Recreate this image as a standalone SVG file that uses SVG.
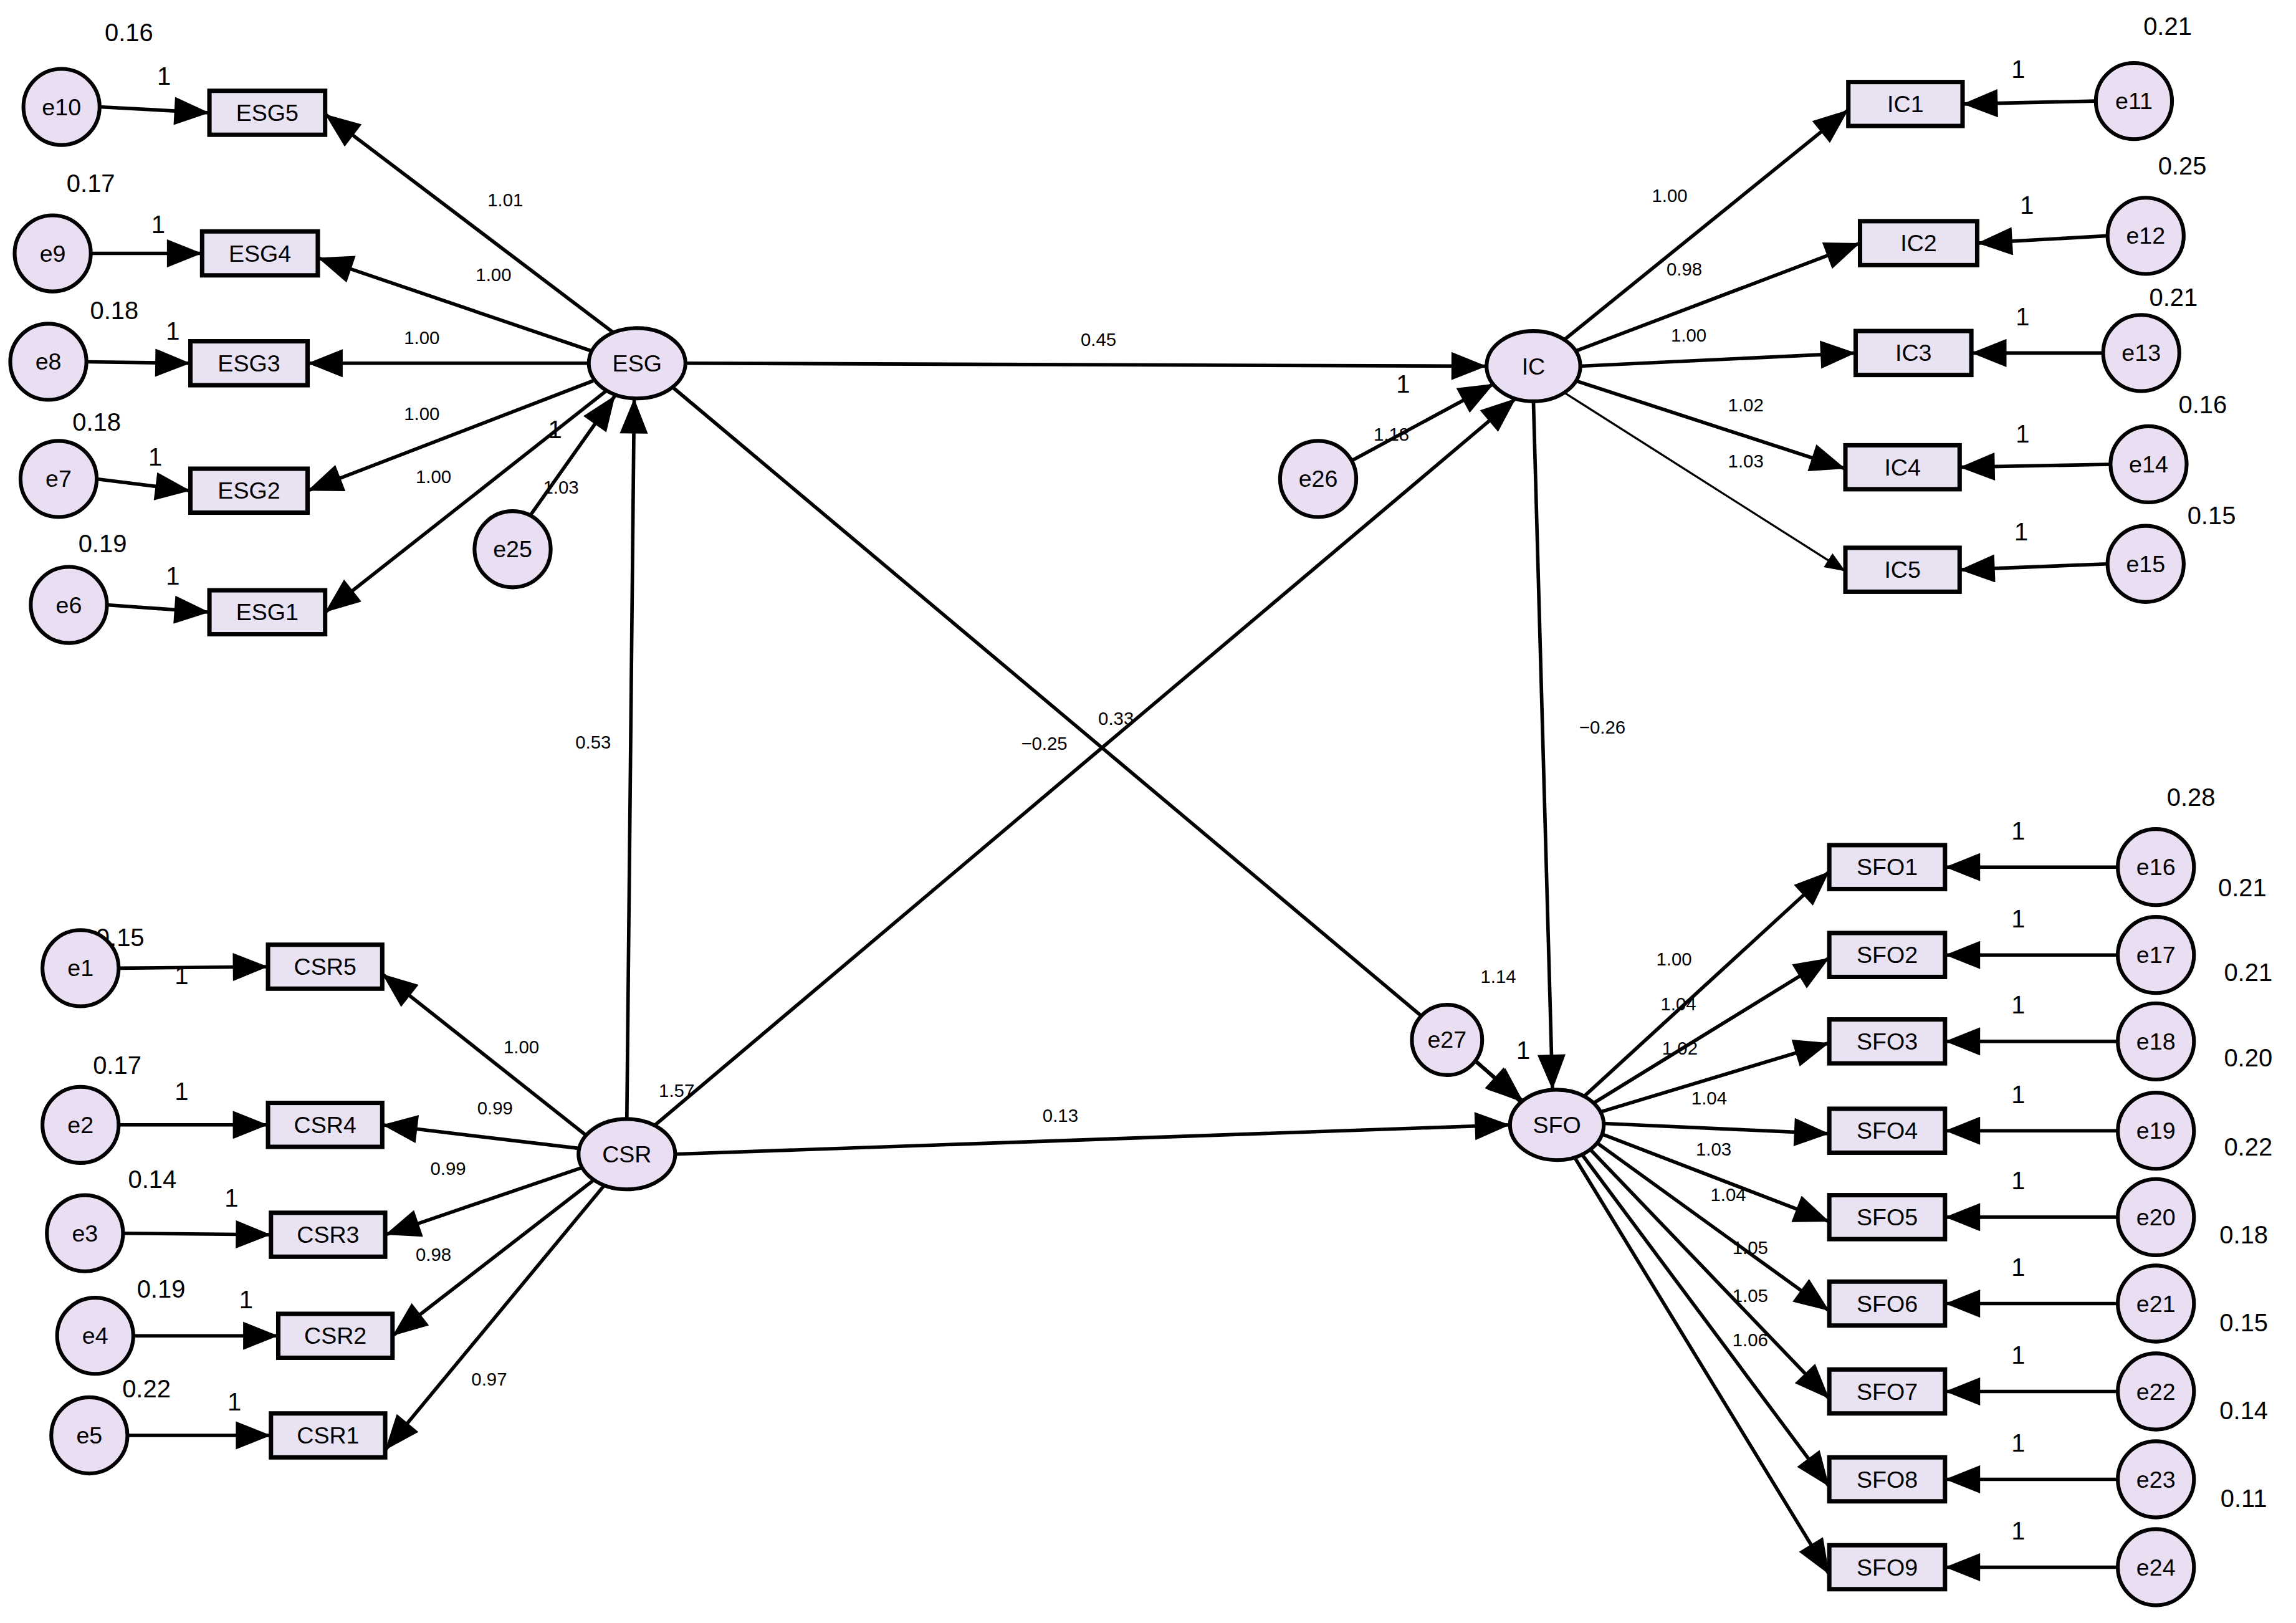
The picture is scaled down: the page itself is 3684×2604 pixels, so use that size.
<svg xmlns="http://www.w3.org/2000/svg" width="3684" height="2604" viewBox="0 0 3684 2604">
<style>
.n{fill:#EADEF2;stroke:#000;stroke-width:2.6}
.r{fill:#E8E2F2;stroke:#000;stroke-width:3}
.t{font-family:"Liberation Sans",Arial,sans-serif;font-size:16px;text-anchor:middle;dominant-baseline:central;fill:#000}
.v{font-family:"Liberation Sans",Arial,sans-serif;font-size:17px;text-anchor:middle;fill:#000}
.p{font-family:"Liberation Sans",Arial,sans-serif;font-size:12.5px;text-anchor:middle;fill:#000}
.e line{stroke:#000;stroke-width:2.4;marker-end:url(#ah)}
</style>
<defs><marker id="ah" viewBox="0 0 10 8" refX="10" refY="4" markerWidth="11" markerHeight="8" orient="auto"><path d="M0,0L10,4L0,8z" fill="#000"/></marker></defs>
<rect width="3684" height="2604" fill="#fff"/>
<g transform="scale(2.35)">
<g id="connectors" class="e">
<line x1="68" y1="73" x2="143" y2="77"/><line x1="62" y1="173" x2="138" y2="173"/><line x1="59" y1="247" x2="130" y2="248"/><line x1="66" y1="327" x2="130" y2="335"/><line x1="73" y1="413" x2="143" y2="418"/>
<line x1="420" y1="228" x2="222" y2="78"/><line x1="405" y1="240" x2="217" y2="176"/><line x1="402" y1="248" x2="210" y2="248"/><line x1="405" y1="260" x2="210" y2="335"/><line x1="415" y1="266" x2="222" y2="418"/>
<line x1="362" y1="352" x2="420" y2="270"/>
<line x1="468" y1="248" x2="1015" y2="250"/><line x1="460" y1="265" x2="1040" y2="752"/><line x1="428" y1="764" x2="433" y2="272"/><line x1="445" y1="770" x2="1035" y2="272"/><line x1="1047" y1="274" x2="1060" y2="744"/><line x1="461" y1="788" x2="1031" y2="768"/>
<line x1="922" y1="315" x2="1020" y2="262"/><line x1="1005" y1="722" x2="1038" y2="752"/>
<line x1="400" y1="775" x2="261" y2="665"/><line x1="395" y1="784" x2="261" y2="768"/><line x1="398" y1="797" x2="263" y2="843"/><line x1="405" y1="806" x2="268" y2="912"/><line x1="412" y1="810" x2="263" y2="990"/>
<line x1="81" y1="661" x2="183" y2="660"/><line x1="81" y1="768" x2="183" y2="768"/><line x1="84" y1="842" x2="185" y2="843"/><line x1="91" y1="912" x2="190" y2="912"/><line x1="87" y1="980" x2="185" y2="980"/>
<line x1="1068" y1="232" x2="1262" y2="75"/><line x1="1075" y1="240" x2="1270" y2="166"/><line x1="1079" y1="250" x2="1267" y2="241"/><line x1="1076" y1="260" x2="1260" y2="320"/><line x1="1068" y1="268" x2="1260" y2="390" style="stroke-width:1.4"/>
<line x1="1431" y1="69" x2="1340" y2="71"/><line x1="1439" y1="161" x2="1350" y2="166"/><line x1="1436" y1="241" x2="1346" y2="241"/><line x1="1441" y1="317" x2="1338" y2="319"/><line x1="1439" y1="385" x2="1338" y2="389"/>
<line x1="1080" y1="750" x2="1249" y2="595"/><line x1="1085" y1="755" x2="1249" y2="654"/><line x1="1090" y1="760" x2="1249" y2="712"/><line x1="1095" y1="767" x2="1249" y2="774"/><line x1="1093" y1="774" x2="1249" y2="834"/><line x1="1090" y1="780" x2="1249" y2="895"/><line x1="1086" y1="785" x2="1249" y2="955"/><line x1="1080" y1="788" x2="1249" y2="1015"/><line x1="1075" y1="790" x2="1249" y2="1075"/>
<line x1="1446" y1="592" x2="1328" y2="592"/><line x1="1446" y1="652" x2="1328" y2="652"/><line x1="1446" y1="711" x2="1328" y2="711"/><line x1="1446" y1="772" x2="1328" y2="772"/><line x1="1446" y1="831" x2="1328" y2="831"/><line x1="1446" y1="890" x2="1328" y2="890"/><line x1="1446" y1="950" x2="1328" y2="950"/><line x1="1446" y1="1010" x2="1328" y2="1010"/><line x1="1446" y1="1070" x2="1328" y2="1070"/>
</g>
<g id="labels">
<text class="p" x="750" y="236">0.45</text><text class="p" x="762" y="495">0.33</text><text class="p" x="405" y="511">0.53</text><text class="p" x="713" y="512">−0.25</text><text class="p" x="1094" y="501">−0.26</text><text class="p" x="724" y="766">0.13</text>
<text class="p" x="345" y="141">1.01</text><text class="p" x="337" y="192">1.00</text><text class="p" x="288" y="235">1.00</text><text class="p" x="288" y="287">1.00</text><text class="p" x="296" y="330">1.00</text><text class="v" x="379" y="299">1</text><text class="p" x="383" y="337">1.03</text>
<text class="p" x="356" y="719">1.00</text><text class="p" x="338" y="761">0.99</text><text class="p" x="306" y="802">0.99</text><text class="p" x="296" y="861">0.98</text><text class="p" x="334" y="946">0.97</text><text class="p" x="462" y="749">1.57</text>
<text class="p" x="1140" y="138">1.00</text><text class="p" x="1150" y="188">0.98</text><text class="p" x="1153" y="233">1.00</text><text class="p" x="1192" y="281">1.02</text><text class="p" x="1192" y="319">1.03</text><text class="v" x="958" y="268">1</text><text class="p" x="950" y="301">1.18</text>
<text class="p" x="1143" y="659">1.00</text><text class="p" x="1146" y="690">1.04</text><text class="p" x="1147" y="720">1.02</text><text class="p" x="1167" y="754">1.04</text><text class="p" x="1170" y="789">1.03</text><text class="p" x="1180" y="820">1.04</text><text class="p" x="1195" y="856">1.05</text><text class="p" x="1195" y="889">1.05</text><text class="p" x="1195" y="919">1.06</text>
<text class="p" x="1023" y="671">1.14</text><text class="v" x="1040" y="723">1</text>
<text class="v" x="88" y="28">0.16</text><text class="v" x="62" y="131">0.17</text><text class="v" x="78" y="218">0.18</text><text class="v" x="66" y="294">0.18</text><text class="v" x="70" y="377">0.19</text>
<text class="v" x="112" y="58">1</text><text class="v" x="108" y="159">1</text><text class="v" x="118" y="232">1</text><text class="v" x="106" y="318">1</text><text class="v" x="118" y="399">1</text>
<text class="v" x="82" y="646">0.15</text><text class="v" x="80" y="733">0.17</text><text class="v" x="104" y="811">0.14</text><text class="v" x="110" y="886">0.19</text><text class="v" x="100" y="954">0.22</text>
<text class="v" x="124" y="672">1</text><text class="v" x="124" y="751">1</text><text class="v" x="158" y="824">1</text><text class="v" x="168" y="893">1</text><text class="v" x="160" y="963">1</text>
<text class="v" x="1480" y="24">0.21</text><text class="v" x="1490" y="119">0.25</text><text class="v" x="1484" y="209">0.21</text><text class="v" x="1504" y="282">0.16</text><text class="v" x="1510" y="358">0.15</text>
<text class="v" x="1378" y="53">1</text><text class="v" x="1384" y="146">1</text><text class="v" x="1381" y="222">1</text><text class="v" x="1381" y="302">1</text><text class="v" x="1380" y="369">1</text>
<text class="v" x="1496" y="550">0.28</text><text class="v" x="1531" y="612">0.21</text><text class="v" x="1535" y="670">0.21</text><text class="v" x="1535" y="728">0.20</text><text class="v" x="1535" y="789">0.22</text><text class="v" x="1532" y="849">0.18</text><text class="v" x="1532" y="909">0.15</text><text class="v" x="1532" y="969">0.14</text><text class="v" x="1532" y="1029">0.11</text>
<text class="v" x="1378" y="573">1</text><text class="v" x="1378" y="633">1</text><text class="v" x="1378" y="692">1</text><text class="v" x="1378" y="753">1</text><text class="v" x="1378" y="812">1</text><text class="v" x="1378" y="871">1</text><text class="v" x="1378" y="931">1</text><text class="v" x="1378" y="991">1</text><text class="v" x="1378" y="1051">1</text>
</g>
<g id="ESG"><ellipse class="n" cx="435" cy="248" rx="33" ry="24"/><text class="t" x="435" y="248">ESG</text></g>
<g id="CSR"><ellipse class="n" cx="428" cy="788" rx="33" ry="24"/><text class="t" x="428" y="788">CSR</text></g>
<g id="IC"><ellipse class="n" cx="1047" cy="250" rx="32" ry="24"/><text class="t" x="1047" y="250">IC</text></g>
<g id="SFO"><ellipse class="n" cx="1063" cy="768" rx="32" ry="24"/><text class="t" x="1063" y="768">SFO</text></g>
<g id="ESG5"><rect class="r" x="143" y="62" width="79" height="30"/><text class="t" x="182.5" y="77">ESG5</text></g>
<g id="ESG4"><rect class="r" x="138" y="158" width="79" height="30"/><text class="t" x="177.5" y="173">ESG4</text></g>
<g id="ESG3"><rect class="r" x="130" y="233" width="80" height="30"/><text class="t" x="170" y="248">ESG3</text></g>
<g id="ESG2"><rect class="r" x="130" y="320" width="80" height="30"/><text class="t" x="170" y="335">ESG2</text></g>
<g id="ESG1"><rect class="r" x="143" y="403" width="79" height="30"/><text class="t" x="182.5" y="418">ESG1</text></g>
<g id="CSR5"><rect class="r" x="183" y="645" width="78" height="30"/><text class="t" x="222" y="660">CSR5</text></g>
<g id="CSR4"><rect class="r" x="183" y="753" width="78" height="30"/><text class="t" x="222" y="768">CSR4</text></g>
<g id="CSR3"><rect class="r" x="185" y="828" width="78" height="30"/><text class="t" x="224" y="843">CSR3</text></g>
<g id="CSR2"><rect class="r" x="190" y="897" width="78" height="30"/><text class="t" x="229" y="912">CSR2</text></g>
<g id="CSR1"><rect class="r" x="185" y="965" width="78" height="30"/><text class="t" x="224" y="980">CSR1</text></g>
<g id="IC1"><rect class="r" x="1262" y="56" width="78" height="30"/><text class="t" x="1301" y="71">IC1</text></g>
<g id="IC2"><rect class="r" x="1270" y="151" width="80" height="30"/><text class="t" x="1310" y="166">IC2</text></g>
<g id="IC3"><rect class="r" x="1267" y="226" width="79" height="30"/><text class="t" x="1306.5" y="241">IC3</text></g>
<g id="IC4"><rect class="r" x="1260" y="304" width="78" height="30"/><text class="t" x="1299" y="319">IC4</text></g>
<g id="IC5"><rect class="r" x="1260" y="374" width="78" height="30"/><text class="t" x="1299" y="389">IC5</text></g>
<g id="SFO1"><rect class="r" x="1249" y="577" width="79" height="30"/><text class="t" x="1288.5" y="592">SFO1</text></g>
<g id="SFO2"><rect class="r" x="1249" y="637" width="79" height="30"/><text class="t" x="1288.5" y="652">SFO2</text></g>
<g id="SFO3"><rect class="r" x="1249" y="696" width="79" height="30"/><text class="t" x="1288.5" y="711">SFO3</text></g>
<g id="SFO4"><rect class="r" x="1249" y="757" width="79" height="30"/><text class="t" x="1288.5" y="772">SFO4</text></g>
<g id="SFO5"><rect class="r" x="1249" y="816" width="79" height="30"/><text class="t" x="1288.5" y="831">SFO5</text></g>
<g id="SFO6"><rect class="r" x="1249" y="875" width="79" height="30"/><text class="t" x="1288.5" y="890">SFO6</text></g>
<g id="SFO7"><rect class="r" x="1249" y="935" width="79" height="30"/><text class="t" x="1288.5" y="950">SFO7</text></g>
<g id="SFO8"><rect class="r" x="1249" y="995" width="79" height="30"/><text class="t" x="1288.5" y="1010">SFO8</text></g>
<g id="SFO9"><rect class="r" x="1249" y="1055" width="79" height="30"/><text class="t" x="1288.5" y="1070">SFO9</text></g>
<g id="e10"><circle class="n" cx="42" cy="73" r="26"/><text class="t" x="42" y="73">e10</text></g>
<g id="e9"><circle class="n" cx="36" cy="173" r="26"/><text class="t" x="36" y="173">e9</text></g>
<g id="e8"><circle class="n" cx="33" cy="247" r="26"/><text class="t" x="33" y="247">e8</text></g>
<g id="e7"><circle class="n" cx="40" cy="327" r="26"/><text class="t" x="40" y="327">e7</text></g>
<g id="e6"><circle class="n" cx="47" cy="413" r="26"/><text class="t" x="47" y="413">e6</text></g>
<g id="e25"><circle class="n" cx="350" cy="375" r="26"/><text class="t" x="350" y="375">e25</text></g>
<g id="e1"><circle class="n" cx="55" cy="661" r="26"/><text class="t" x="55" y="661">e1</text></g>
<g id="e2"><circle class="n" cx="55" cy="768" r="26"/><text class="t" x="55" y="768">e2</text></g>
<g id="e3"><circle class="n" cx="58" cy="842" r="26"/><text class="t" x="58" y="842">e3</text></g>
<g id="e4"><circle class="n" cx="65" cy="912" r="26"/><text class="t" x="65" y="912">e4</text></g>
<g id="e5"><circle class="n" cx="61" cy="980" r="26"/><text class="t" x="61" y="980">e5</text></g>
<g id="e26"><circle class="n" cx="900" cy="327" r="26"/><text class="t" x="900" y="327">e26</text></g>
<g id="e27"><circle class="n" cx="988" cy="710" r="24"/><text class="t" x="988" y="710">e27</text></g>
<g id="e11"><circle class="n" cx="1457" cy="69" r="26"/><text class="t" x="1457" y="69">e11</text></g>
<g id="e12"><circle class="n" cx="1465" cy="161" r="26"/><text class="t" x="1465" y="161">e12</text></g>
<g id="e13"><circle class="n" cx="1462" cy="241" r="26"/><text class="t" x="1462" y="241">e13</text></g>
<g id="e14"><circle class="n" cx="1467" cy="317" r="26"/><text class="t" x="1467" y="317">e14</text></g>
<g id="e15"><circle class="n" cx="1465" cy="385" r="26"/><text class="t" x="1465" y="385">e15</text></g>
<g id="e16"><circle class="n" cx="1472" cy="592" r="26"/><text class="t" x="1472" y="592">e16</text></g>
<g id="e17"><circle class="n" cx="1472" cy="652" r="26"/><text class="t" x="1472" y="652">e17</text></g>
<g id="e18"><circle class="n" cx="1472" cy="711" r="26"/><text class="t" x="1472" y="711">e18</text></g>
<g id="e19"><circle class="n" cx="1472" cy="772" r="26"/><text class="t" x="1472" y="772">e19</text></g>
<g id="e20"><circle class="n" cx="1472" cy="831" r="26"/><text class="t" x="1472" y="831">e20</text></g>
<g id="e21"><circle class="n" cx="1472" cy="890" r="26"/><text class="t" x="1472" y="890">e21</text></g>
<g id="e22"><circle class="n" cx="1472" cy="950" r="26"/><text class="t" x="1472" y="950">e22</text></g>
<g id="e23"><circle class="n" cx="1472" cy="1010" r="26"/><text class="t" x="1472" y="1010">e23</text></g>
<g id="e24"><circle class="n" cx="1472" cy="1070" r="26"/><text class="t" x="1472" y="1070">e24</text></g>
</g>
</svg>
